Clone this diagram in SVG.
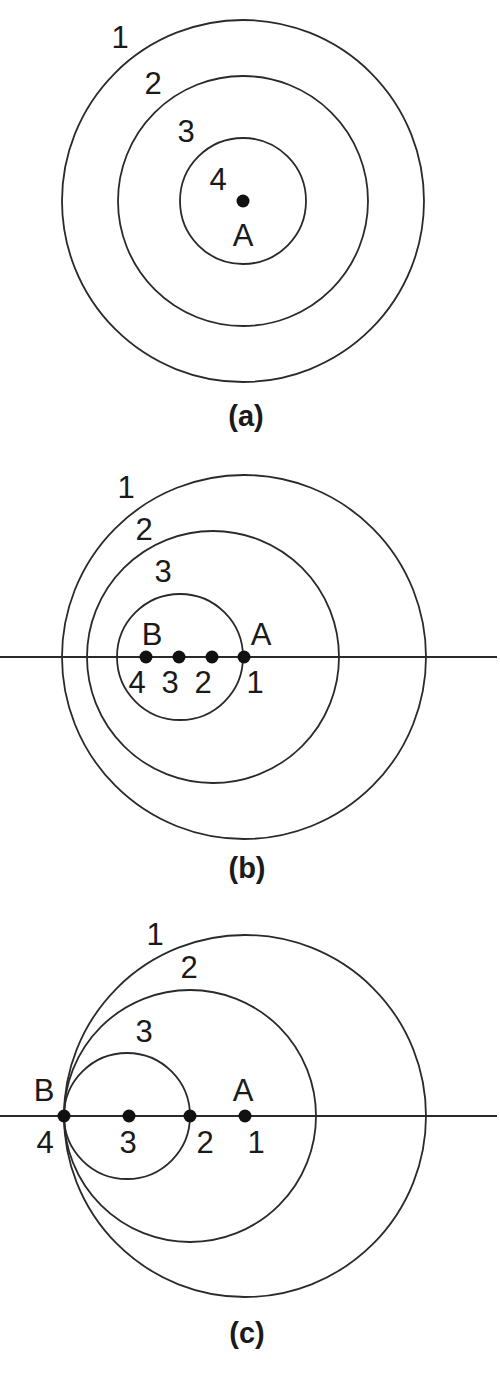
<svg xmlns="http://www.w3.org/2000/svg" width="500" height="1376" viewBox="0 0 500 1376">
<style>
.c{fill:none;stroke:#2a2a2a;stroke-width:1.8}
.ax{stroke:#2a2a2a;stroke-width:1.8}
.d{fill:#111}
text{font-family:"Liberation Sans",Arial,sans-serif;font-size:31px;fill:#1a1a1a;text-anchor:middle}
.cap{font-weight:bold;font-size:29px}
</style>
<rect width="500" height="1376" fill="#fff"/>
<g id="panel-a">
<g id="a-circles">
<circle id="a-c1" class="c" cx="243" cy="201" r="181"/>
<circle id="a-c2" class="c" cx="243" cy="201" r="125"/>
<circle id="a-c3" class="c" cx="243" cy="201" r="63"/>
</g>
<g id="a-pointA"><circle class="d" cx="243" cy="201" r="6.5"/><text x="243" y="246">A</text></g>
<g id="a-labels">
<text x="120" y="48">1</text>
<text x="153" y="94">2</text>
<text x="186" y="142">3</text>
<text x="218" y="190">4</text>
</g>
<text class="cap" x="246" y="426">(a)</text>
</g>
<g id="panel-b">
<g id="b-connectors"><line class="ax" x1="0" y1="657" x2="497" y2="657"/></g>
<g id="b-circles">
<circle id="b-c1" class="c" cx="244" cy="657" r="182"/>
<circle id="b-c2" class="c" cx="213" cy="657" r="126"/>
<circle id="b-c3" class="c" cx="180" cy="657" r="63"/>
</g>
<g id="b-pointB"><circle class="d" cx="146" cy="657" r="6.5"/><text x="152" y="645">B</text><text x="137" y="693">4</text></g>
<g id="b-point3"><circle class="d" cx="179" cy="657" r="6.5"/><text x="170" y="693">3</text></g>
<g id="b-point2"><circle class="d" cx="212" cy="657" r="6.5"/><text x="203" y="693">2</text></g>
<g id="b-pointA"><circle class="d" cx="244" cy="657" r="6.5"/><text x="261" y="645">A</text><text x="255" y="693">1</text></g>
<g id="b-labels">
<text x="126" y="498">1</text>
<text x="144" y="540">2</text>
<text x="163" y="582">3</text>
</g>
<text class="cap" x="247" y="878">(b)</text>
</g>
<g id="panel-c">
<g id="c-connectors"><line class="ax" x1="0" y1="1116" x2="497" y2="1116"/></g>
<g id="c-circles">
<circle id="c-c1" class="c" cx="245" cy="1116" r="181"/>
<circle id="c-c2" class="c" cx="190" cy="1116" r="126"/>
<circle id="c-c3" class="c" cx="127" cy="1116" r="63"/>
</g>
<g id="c-pointB"><circle class="d" cx="64" cy="1116" r="6.5"/><text x="44" y="1101">B</text><text x="45" y="1153">4</text></g>
<g id="c-point3"><circle class="d" cx="129" cy="1116" r="6.5"/><text x="128" y="1153">3</text></g>
<g id="c-point2"><circle class="d" cx="190" cy="1116" r="6.5"/><text x="205" y="1153">2</text></g>
<g id="c-pointA"><circle class="d" cx="245" cy="1116" r="6.5"/><text x="243" y="1101">A</text><text x="256" y="1153">1</text></g>
<g id="c-labels">
<text x="155" y="945">1</text>
<text x="189" y="978">2</text>
<text x="144" y="1042">3</text>
</g>
<text class="cap" x="247" y="1343">(c)</text>
</g>
</svg>
